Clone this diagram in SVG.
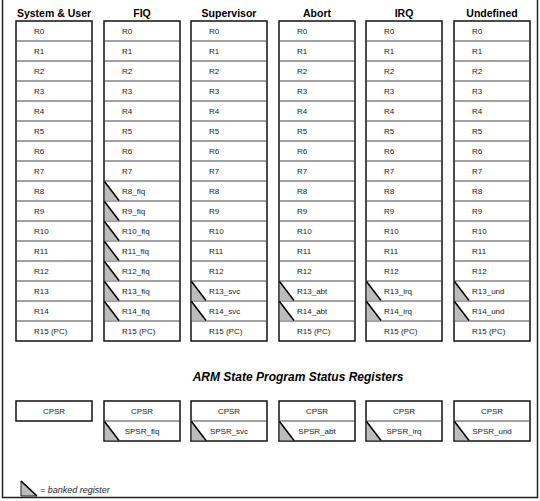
<svg xmlns="http://www.w3.org/2000/svg" xmlns:xlink="http://www.w3.org/1999/xlink" width="540" height="501" viewBox="0 0 540 501">
<style>
.hd{font-family:"Liberation Sans",Arial,sans-serif;font-weight:bold;font-size:10.5px;fill:#000;text-anchor:middle}
.r{font-family:"Liberation Sans",Arial,sans-serif;font-size:8px;fill:#222}
.c{font-family:"Liberation Sans",Arial,sans-serif;font-size:8px;fill:#222;text-anchor:middle}
.sep{stroke:#444;stroke-width:1;fill:none}
.box{stroke:#111;stroke-width:1.5;fill:#fff}
</style>
<defs>
<g id="grid">
<rect class="box" x="0" y="21" width="76" height="320"/>
<path class="sep" d="M0,41h76M0,61h76M0,81h76M0,101h76M0,121h76M0,141h76M0,161h76M0,181h76M0,201h76M0,221h76M0,241h76M0,261h76M0,281h76M0,301h76M0,321h76"/>
</g>
<g id="bk">
<path d="M0.8,1 L0.8,19.3 L14.5,19.3Z" fill="#bcbcbc"/>
<path d="M0.5,0.5 L15,19.5" stroke="#000" stroke-width="1.5"/>
</g>
</defs>
<rect width="540" height="501" fill="#fff"/>
<path d="M2.5,0V497.5H537.5V0" fill="none" stroke="#222" stroke-width="1.5"/>

<g id="col-system">
<text class="hd" x="54" y="17">System &amp; User</text>
<use xlink:href="#grid" x="16"/>
<text class="r" x="34" y="34">R0</text><text class="r" x="34" y="54">R1</text><text class="r" x="34" y="74">R2</text><text class="r" x="34" y="94">R3</text>
<text class="r" x="34" y="114">R4</text><text class="r" x="34" y="134">R5</text><text class="r" x="34" y="154">R6</text><text class="r" x="34" y="174">R7</text>
<text class="r" x="34" y="194">R8</text><text class="r" x="34" y="214">R9</text><text class="r" x="34" y="234">R10</text><text class="r" x="34" y="254">R11</text>
<text class="r" x="34" y="274">R12</text><text class="r" x="34" y="294">R13</text><text class="r" x="34" y="314">R14</text><text class="r" x="34" y="334">R15 (PC)</text>
</g>

<g id="col-fiq">
<text class="hd" x="142" y="17">FIQ</text>
<use xlink:href="#grid" x="104"/>
<use xlink:href="#bk" x="104" y="181"/><use xlink:href="#bk" x="104" y="201"/><use xlink:href="#bk" x="104" y="221"/><use xlink:href="#bk" x="104" y="241"/>
<use xlink:href="#bk" x="104" y="261"/><use xlink:href="#bk" x="104" y="281"/><use xlink:href="#bk" x="104" y="301"/>
<text class="r" x="122" y="34">R0</text><text class="r" x="122" y="54">R1</text><text class="r" x="122" y="74">R2</text><text class="r" x="122" y="94">R3</text>
<text class="r" x="122" y="114">R4</text><text class="r" x="122" y="134">R5</text><text class="r" x="122" y="154">R6</text><text class="r" x="122" y="174">R7</text>
<text class="r" x="122" y="194">R8_fiq</text><text class="r" x="122" y="214">R9_fiq</text><text class="r" x="122" y="234">R10_fiq</text><text class="r" x="122" y="254">R11_fiq</text>
<text class="r" x="122" y="274">R12_fiq</text><text class="r" x="122" y="294">R13_fiq</text><text class="r" x="122" y="314">R14_fiq</text><text class="r" x="122" y="334">R15 (PC)</text>
</g>

<g id="col-supervisor">
<text class="hd" x="229" y="17">Supervisor</text>
<use xlink:href="#grid" x="191"/>
<use xlink:href="#bk" x="191" y="281"/><use xlink:href="#bk" x="191" y="301"/>
<text class="r" x="209" y="34">R0</text><text class="r" x="209" y="54">R1</text><text class="r" x="209" y="74">R2</text><text class="r" x="209" y="94">R3</text>
<text class="r" x="209" y="114">R4</text><text class="r" x="209" y="134">R5</text><text class="r" x="209" y="154">R6</text><text class="r" x="209" y="174">R7</text>
<text class="r" x="209" y="194">R8</text><text class="r" x="209" y="214">R9</text><text class="r" x="209" y="234">R10</text><text class="r" x="209" y="254">R11</text>
<text class="r" x="209" y="274">R12</text><text class="r" x="209" y="294">R13_svc</text><text class="r" x="209" y="314">R14_svc</text><text class="r" x="209" y="334">R15 (PC)</text>
</g>

<g id="col-abort">
<text class="hd" x="317" y="17">Abort</text>
<use xlink:href="#grid" x="279"/>
<use xlink:href="#bk" x="279" y="281"/><use xlink:href="#bk" x="279" y="301"/>
<text class="r" x="297" y="34">R0</text><text class="r" x="297" y="54">R1</text><text class="r" x="297" y="74">R2</text><text class="r" x="297" y="94">R3</text>
<text class="r" x="297" y="114">R4</text><text class="r" x="297" y="134">R5</text><text class="r" x="297" y="154">R6</text><text class="r" x="297" y="174">R7</text>
<text class="r" x="297" y="194">R8</text><text class="r" x="297" y="214">R9</text><text class="r" x="297" y="234">R10</text><text class="r" x="297" y="254">R11</text>
<text class="r" x="297" y="274">R12</text><text class="r" x="297" y="294">R13_abt</text><text class="r" x="297" y="314">R14_abt</text><text class="r" x="297" y="334">R15 (PC)</text>
</g>

<g id="col-irq">
<text class="hd" x="404" y="17">IRQ</text>
<use xlink:href="#grid" x="366"/>
<use xlink:href="#bk" x="366" y="281"/><use xlink:href="#bk" x="366" y="301"/>
<text class="r" x="384" y="34">R0</text><text class="r" x="384" y="54">R1</text><text class="r" x="384" y="74">R2</text><text class="r" x="384" y="94">R3</text>
<text class="r" x="384" y="114">R4</text><text class="r" x="384" y="134">R5</text><text class="r" x="384" y="154">R6</text><text class="r" x="384" y="174">R7</text>
<text class="r" x="384" y="194">R8</text><text class="r" x="384" y="214">R9</text><text class="r" x="384" y="234">R10</text><text class="r" x="384" y="254">R11</text>
<text class="r" x="384" y="274">R12</text><text class="r" x="384" y="294">R13_irq</text><text class="r" x="384" y="314">R14_irq</text><text class="r" x="384" y="334">R15 (PC)</text>
</g>

<g id="col-undefined">
<text class="hd" x="492" y="17">Undefined</text>
<use xlink:href="#grid" x="454"/>
<use xlink:href="#bk" x="454" y="281"/><use xlink:href="#bk" x="454" y="301"/>
<text class="r" x="472" y="34">R0</text><text class="r" x="472" y="54">R1</text><text class="r" x="472" y="74">R2</text><text class="r" x="472" y="94">R3</text>
<text class="r" x="472" y="114">R4</text><text class="r" x="472" y="134">R5</text><text class="r" x="472" y="154">R6</text><text class="r" x="472" y="174">R7</text>
<text class="r" x="472" y="194">R8</text><text class="r" x="472" y="214">R9</text><text class="r" x="472" y="234">R10</text><text class="r" x="472" y="254">R11</text>
<text class="r" x="472" y="274">R12</text><text class="r" x="472" y="294">R13_und</text><text class="r" x="472" y="314">R14_und</text><text class="r" x="472" y="334">R15 (PC)</text>
</g>

<text x="298" y="381" font-family="'Liberation Sans',Arial,sans-serif" font-weight="bold" font-style="italic" font-size="12" text-anchor="middle" fill="#000">ARM State Program Status Registers</text>

<g id="psr-system">
<rect class="box" x="16" y="401" width="76" height="20"/>
<text class="c" x="54" y="414">CPSR</text>
</g>
<g id="psr-fiq">
<rect class="box" x="104" y="401" width="76" height="40"/>
<path class="sep" d="M104,421h76"/>
<use xlink:href="#bk" x="104" y="421"/>
<text class="c" x="142" y="414">CPSR</text>
<text class="c" x="142" y="434">SPSR_fiq</text>
</g>
<g id="psr-svc">
<rect class="box" x="191" y="401" width="76" height="40"/>
<path class="sep" d="M191,421h76"/>
<use xlink:href="#bk" x="191" y="421"/>
<text class="c" x="229" y="414">CPSR</text>
<text class="c" x="229" y="434">SPSR_svc</text>
</g>
<g id="psr-abt">
<rect class="box" x="279" y="401" width="76" height="40"/>
<path class="sep" d="M279,421h76"/>
<use xlink:href="#bk" x="279" y="421"/>
<text class="c" x="317" y="414">CPSR</text>
<text class="c" x="317" y="434">SPSR_abt</text>
</g>
<g id="psr-irq">
<rect class="box" x="366" y="401" width="76" height="40"/>
<path class="sep" d="M366,421h76"/>
<use xlink:href="#bk" x="366" y="421"/>
<text class="c" x="404" y="414">CPSR</text>
<text class="c" x="404" y="434">SPSR_irq</text>
</g>
<g id="psr-und">
<rect class="box" x="454" y="401" width="76" height="40"/>
<path class="sep" d="M454,421h76"/>
<use xlink:href="#bk" x="454" y="421"/>
<text class="c" x="492" y="414">CPSR</text>
<text class="c" x="492" y="434">SPSR_und</text>
</g>

<g id="legend">
<path d="M21,481 L21,496 L37,496Z" fill="#bcbcbc" stroke="#222" stroke-width="1"/>
<path d="M21,481 L37,496" stroke="#000" stroke-width="1.5"/>
<text x="40" y="493" font-family="'Liberation Sans',Arial,sans-serif" font-style="italic" font-size="9" fill="#222">= banked register</text>
</g>
</svg>
